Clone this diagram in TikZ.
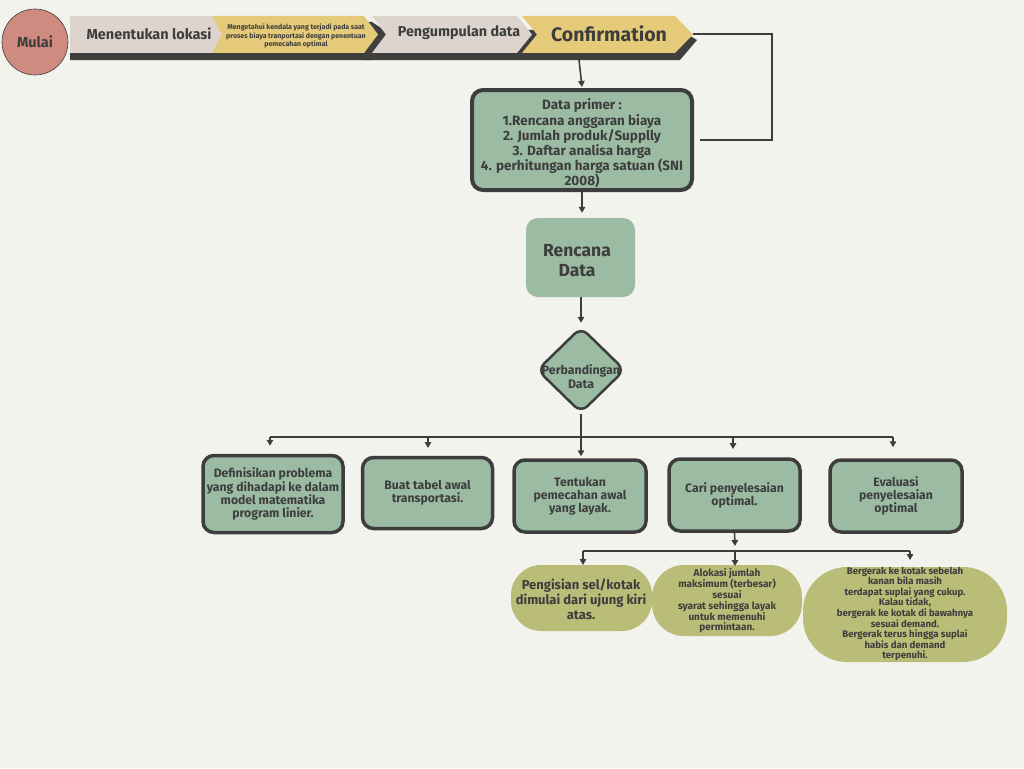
\documentclass[tikz,border=0pt]{standalone}
\usepackage{fontspec}
\setmainfont{Fira Sans}
\usetikzlibrary{arrows.meta,shapes.geometric}
\definecolor{bg}{HTML}{F2F3EC}
\definecolor{ink}{HTML}{3D3D3D}
\definecolor{sage}{HTML}{9CBBA3}
\definecolor{olive}{HTML}{B9BD77}
\definecolor{gold}{HTML}{E5CA7A}
\definecolor{stone}{HTML}{DDD5CD}
\definecolor{rose}{HTML}{D08B80}
\definecolor{darkband}{HTML}{3F3F3F}
\tikzset{
  conn/.style={draw=ink,line width=1.6pt},
  arr/.style={conn,-{Triangle[length=6pt,width=6.5pt]}},
  boxa/.style={draw=ink,line width=3.5pt,fill=sage,rounded corners=11pt,inner sep=0pt,align=center,text=ink,font=\bfseries\fontsize{12.2}{13.2}\selectfont},
  pill/.style={fill=olive,inner sep=0pt,align=center,text=ink},
  lbl/.style={text=ink,inner sep=0pt,align=center},
}
\begin{document}
\begin{tikzpicture}[x=1pt,y=-1pt]
\fill[bg] (0,0) rectangle (1024,768);
\useasboundingbox (0,0) rectangle (1024,768);

% start circle
\node[circle,draw=ink,line width=0.6pt,fill=rose,minimum size=66pt,inner sep=0pt,text=ink,font=\bfseries\fontsize{14.5}{16}\selectfont] (mulai) at (35,42) {Mulai};

% banner shadow
\fill[darkband] (70,30) -- (680,30) -- (697,40) -- (680,60) -- (70,60) -- cycle;
\fill[darkband] (368,22) -- (372,22) -- (390,34) -- (372,60) -- (362,60) -- cycle;
% banner segments
\fill[stone] (70,16) -- (226,16) -- (226,53) -- (70,53) -- cycle;
\fill[gold] (212,16) -- (364,16) -- (378,34.5) -- (364,53) -- (212,53) -- (222,34.5) -- cycle;
\fill[stone] (372,16) -- (517,16) -- (532,34.5) -- (517,53) -- (372,53) -- (386,34.5) -- cycle;
\fill[gold] (522,16) -- (675,16) -- (693,34.5) -- (675,53) -- (522,53) -- (537,34.5) -- cycle;

\node[lbl,font=\fontsize{14.5}{16}\selectfont\bfseries] (lokasi) at (149,34) {Menentukan lokasi};
\node[lbl,font=\bfseries\fontsize{7}{7}\selectfont] (kendala) at (296,36) {Mengetahui kendala yang terjadi pada saat\\proses biaya tranportasi dengan penentuan\\pemecahan optimal};
\node[lbl,font=\bfseries\fontsize{14.3}{16}\selectfont] (kumpul) at (459,33) {Pengumpulan data};
\node[lbl,font=\bfseries\fontsize{19.5}{21}\selectfont] (confirm) at (609,34) {Confirmation};
\coordinate (ctip) at (693,34);
\coordinate (cbot) at (579,60);

% data primer
\node[boxa,line width=4pt,minimum width=220pt,minimum height=100pt] (dp) at (582,140) {};
\node[lbl,font=\bfseries\fontsize{13.5}{15.2}\selectfont] (dptext) at (582,143.5) {Data primer :\\1.Rencana anggaran biaya\\2. Jumlah produk/Supplly\\3. Daftar analisa harga\\4. perhitungan harga satuan (SNI\\2008)};

\node[fill=sage,rounded corners=12pt,minimum width=109pt,minimum height=79pt,inner sep=0pt] (rd) at (580.5,257.5) {};
\node[lbl,font=\bfseries\fontsize{17.5}{20}\selectfont] (rdtext) at (577,261) {Rencana\\Data};

\node[diamond,draw=ink,line width=2.5pt,fill=sage,rounded corners=9pt,minimum width=88pt,minimum height=86pt,inner sep=0pt] (dia) at (581,370) {};
\node[lbl,font=\bfseries\fontsize{12.3}{14}\selectfont] (diatext) at (581,377) {Perbandingan\\Data};

% row boxes
\node[boxa,minimum width=140pt,minimum height=77pt] (b1) at (273,494) {Definisikan problema\\yang dihadapi ke dalam\\model matematika\\program linier.};
\node[boxa,minimum width=130pt,minimum height=71pt] (b2) at (427.5,493) {Buat tabel awal\\transportasi.};
\node[boxa,minimum width=132pt,minimum height=72pt] (b3) at (580,496) {Tentukan\\pemecahan awal\\yang layak.};
\node[boxa,minimum width=131pt,minimum height=72pt] (b4) at (734.5,495) {Cari penyelesaian\\optimal.};
\node[boxa,minimum width=132pt,minimum height=72pt] (b5) at (896,496) {Evaluasi\\penyelesaian\\optimal};

% pills
\node[pill,rounded corners=30pt,minimum width=141pt,minimum height=66pt] (e1) at (581.5,598) {};
\node[lbl,font=\bfseries\fontsize{13}{15}\selectfont] (e1text) at (581,599) {Pengisian sel/kotak\\dimulai dari ujung kiri\\atas.};
\node[pill,rounded corners=32pt,minimum width=150pt,minimum height=71pt] (e2) at (727,600.5) {};
\node[lbl,font=\bfseries\fontsize{10}{10.8}\selectfont] (e2text) at (727,601) {Alokasi jumlah\\maksimum (terbesar)\\sesuai\\syarat sehingga layak\\untuk memenuhi\\permintaan.};
\node[pill,rounded corners=44pt,minimum width=204pt,minimum height=95pt] (e3) at (905,614.5) {};
\node[lbl,font=\bfseries\fontsize{9.6}{10.6}\selectfont] (e3text) at (905,614) {Bergerak ke kotak sebelah\\kanan bila masih\\terdapat suplai yang cukup.\\Kalau tidak,\\bergerak ke kotak di bawahnya\\sesuai demand.\\Bergerak terus hingga suplai\\habis dan demand\\terpenuhi.};

% connectors top
\draw[arr] (cbot) -- ([yshift=1pt]dp.north);
\draw[conn] (ctip) -- (772,34) |- ([xshift=6pt]dp.east);
\draw[arr,shorten >=5pt] (dp.south) -- (dp.south |- rd.north);
\draw[arr,shorten >=3pt] (rd.south -| dia.north) -- (dia.north);

% bus 1
\coordinate (busL) at (270,437);
\coordinate (busR) at (893,437);
\draw[conn] (busL) -- (busR);
\draw[arr,shorten >=2pt] (dia.south) -- (dia.south |- b3.north);
\draw[arr,shorten >=8pt] (busL) -- (busL |- b1.north);
\draw[arr,shorten >=9pt] (428,437) -- (428,457);
\draw[arr,shorten >=10pt] (733,437) -- (733,459);
\draw[arr,shorten >=11pt] (busR) -- (busR |- b5.north);

% bus 2
\coordinate (bus2L) at (583,551);
\coordinate (bus2R) at (910,551);
\draw[arr] (b4.south) -- (735,546);
\draw[conn] (bus2L) -- (bus2R);
\draw[arr] (bus2L) -- (583,565);
\draw[arr] (735,551) -- (735,566);
\draw[arr] (bus2R) -- (910,560);
\end{tikzpicture}
\end{document}
